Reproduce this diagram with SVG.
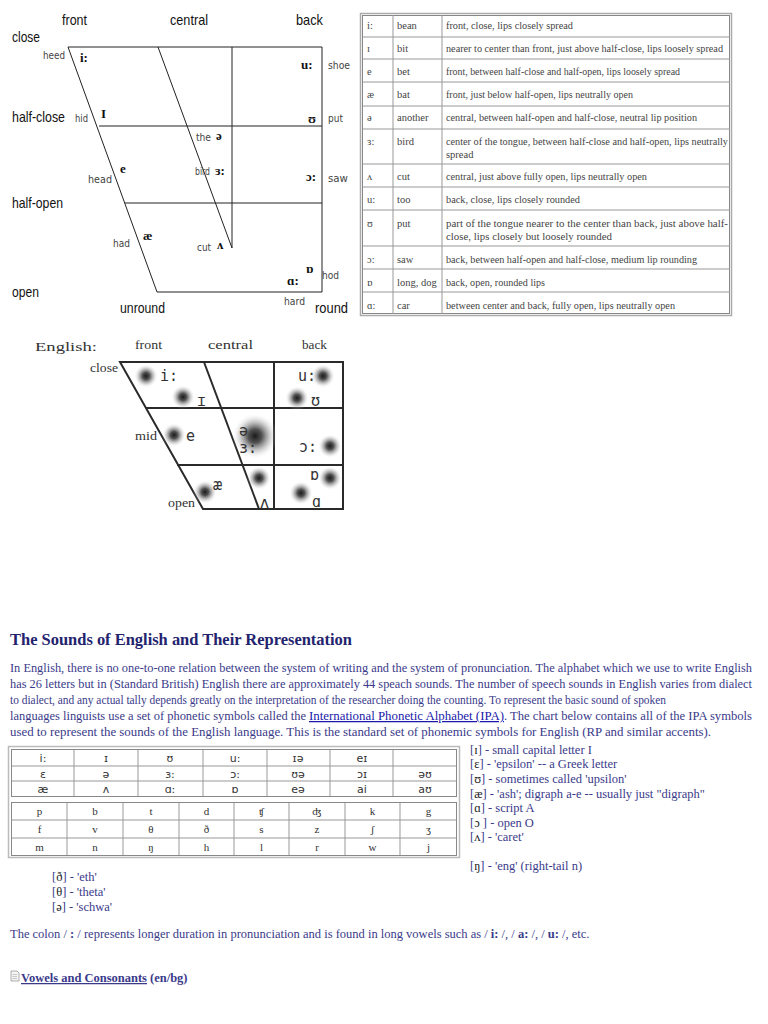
<svg xmlns="http://www.w3.org/2000/svg" width="768" height="1024" viewBox="0 0 768 1024">
<style>
.lbl{font-family:"Liberation Sans",Arial,sans-serif;font-size:15px;fill:#111;}
.hw{font-family:"DejaVu Sans","Liberation Sans",sans-serif;font-size:11px;fill:#444;}
.sym{font-family:"Liberation Serif","DejaVu Serif",serif;font-size:13px;font-weight:bold;fill:#111;}
.ln{stroke:#222;stroke-width:1;fill:none;}
.tb{font-family:"Liberation Serif","Times New Roman",serif;font-size:10.5px;fill:#444;}
.tl{stroke:#999;stroke-width:1;fill:none;}
.en{font-family:"Liberation Serif","Times New Roman",serif;font-size:13px;fill:#333;}
.ch{stroke:#2a2a2a;stroke-width:2;fill:none;}
.ip{font-family:"DejaVu Sans Mono","Liberation Mono",monospace;font-size:15px;fill:#333;}
.body{font-family:"Liberation Serif","Times New Roman",serif;font-size:12.5px;fill:#3a3a8a;}
.ttl{font-family:"Liberation Serif","Times New Roman",serif;font-size:16.5px;font-weight:bold;fill:#23236e;}
.lnk{fill:#1a1aaa;text-decoration:underline;}
.vc{font-family:"DejaVu Sans","Liberation Sans",sans-serif;font-size:11px;fill:#333;text-anchor:middle;}
.cc{font-family:"Liberation Serif","DejaVu Serif",serif;font-size:11px;fill:#333;text-anchor:middle;}
.nt{font-family:"Liberation Serif","Times New Roman",serif;font-size:12.5px;fill:#3a3a8a;}
</style>
<defs>
<radialGradient id="dot">
<stop offset="0" stop-color="#1a1a1a" stop-opacity="1"/>
<stop offset="0.3" stop-color="#333" stop-opacity="0.85"/>
<stop offset="0.65" stop-color="#777" stop-opacity="0.35"/>
<stop offset="1" stop-color="#fff" stop-opacity="0"/>
</radialGradient>
</defs>
<rect width="768" height="1024" fill="#fff"/>

<!-- Top-left vowel chart -->
<g id="chart1">
<path class="ln" d="M68,47 H322 V292 H157 Z"/>
<line class="ln" x1="158" y1="47" x2="232" y2="248"/>
<line class="ln" x1="232" y1="47" x2="232" y2="248"/>
<line class="ln" x1="99" y1="126" x2="322" y2="126"/>
<line class="ln" x1="125" y1="203" x2="322" y2="203"/>
<text class="lbl" x="62" y="25" textLength="25" lengthAdjust="spacingAndGlyphs">front</text>
<text class="lbl" x="170" y="25" textLength="38" lengthAdjust="spacingAndGlyphs">central</text>
<text class="lbl" x="296" y="25" textLength="27" lengthAdjust="spacingAndGlyphs">back</text>
<text class="lbl" x="12" y="42" textLength="28" lengthAdjust="spacingAndGlyphs">close</text>
<text class="lbl" x="12" y="122" textLength="53" lengthAdjust="spacingAndGlyphs">half-close</text>
<text class="lbl" x="12" y="208" textLength="51" lengthAdjust="spacingAndGlyphs">half-open</text>
<text class="lbl" x="12" y="297" textLength="27" lengthAdjust="spacingAndGlyphs">open</text>
<text class="lbl" x="120" y="313" textLength="45" lengthAdjust="spacingAndGlyphs">unround</text>
<text class="lbl" x="315" y="313" textLength="33" lengthAdjust="spacingAndGlyphs">round</text>
<text class="hw" x="43" y="59" textLength="22" lengthAdjust="spacingAndGlyphs">heed</text>
<text class="hw" x="328" y="69" textLength="22" lengthAdjust="spacingAndGlyphs">shoe</text>
<text class="hw" x="75" y="122" textLength="13" lengthAdjust="spacingAndGlyphs">hid</text>
<text class="hw" x="328" y="122" textLength="15" lengthAdjust="spacingAndGlyphs">put</text>
<text class="hw" x="196" y="141" textLength="15" lengthAdjust="spacingAndGlyphs">the</text>
<text class="hw" x="88" y="183" textLength="24" lengthAdjust="spacingAndGlyphs">head</text>
<text class="hw" x="195" y="175" textLength="15" lengthAdjust="spacingAndGlyphs">bird</text>
<text class="hw" x="328" y="182" textLength="20" lengthAdjust="spacingAndGlyphs">saw</text>
<text class="hw" x="113" y="247" textLength="17" lengthAdjust="spacingAndGlyphs">had</text>
<text class="hw" x="197" y="251" textLength="14" lengthAdjust="spacingAndGlyphs">cut</text>
<text class="hw" x="322" y="279" textLength="17" lengthAdjust="spacingAndGlyphs">hod</text>
<text class="hw" x="284" y="305" textLength="21" lengthAdjust="spacingAndGlyphs">hard</text>
<text class="sym" x="80" y="62">i:</text>
<text class="sym" x="301" y="69">u:</text>
<text class="sym" x="101" y="118" font-size="11">I</text>
<text class="sym" x="308" y="123">ʊ</text>
<text class="sym" x="216" y="140">ə</text>
<text class="sym" x="120" y="173">e</text>
<text class="sym" x="215" y="175">ɜ:</text>
<text class="sym" x="306" y="181">ɔ:</text>
<text class="sym" x="143" y="240">æ</text>
<text class="sym" x="217" y="249" font-size="10">ʌ</text>
<text class="sym" x="306" y="273" font-size="11">ɒ</text>
<text class="sym" x="287" y="285">ɑ:</text>
</g>

<!-- Top-right description table -->
<g id="table1">
<rect x="360.5" y="13.5" width="371" height="302" fill="none" stroke="#aaa" stroke-width="1.5"/>
<rect x="362.5" y="15.5" width="367" height="298" fill="none" stroke="#888" stroke-width="1"/>
<line class="tl" x1="393" y1="15" x2="393" y2="314"/>
<line class="tl" x1="442" y1="15" x2="442" y2="314"/>
<path class="tl" d="M363,37 H730 M363,59 H730 M363,82 H730 M363,106 H730 M363,129 H730 M363,164 H730 M363,187 H730 M363,210 H730 M363,246 H730 M363,269 H730 M363,292 H730"/>
<text class="tb" x="367" y="29">i:</text><text class="tb" x="397" y="29">bean</text>
<text class="tb" x="446" y="29" textLength="127" lengthAdjust="spacingAndGlyphs">front, close, lips closely spread</text>
<text class="tb" x="367" y="52">ɪ</text><text class="tb" x="397" y="52">bit</text>
<text class="tb" x="446" y="52" textLength="277" lengthAdjust="spacingAndGlyphs">nearer to center than front, just above half-close, lips loosely spread</text>
<text class="tb" x="367" y="75">e</text><text class="tb" x="397" y="75">bet</text>
<text class="tb" x="446" y="75" textLength="234" lengthAdjust="spacingAndGlyphs">front, between half-close and half-open, lips loosely spread</text>
<text class="tb" x="367" y="98">æ</text><text class="tb" x="397" y="98">bat</text>
<text class="tb" x="446" y="98" textLength="187" lengthAdjust="spacingAndGlyphs">front, just below half-open, lips neutrally open</text>
<text class="tb" x="367" y="121">ə</text><text class="tb" x="397" y="121">another</text>
<text class="tb" x="446" y="121" textLength="251" lengthAdjust="spacingAndGlyphs">central, between half-open and half-close, neutral lip position</text>
<text class="tb" x="367" y="145">ɜ:</text><text class="tb" x="397" y="145">bird</text>
<text class="tb" x="446" y="145" textLength="282" lengthAdjust="spacingAndGlyphs">center of the tongue, between half-close and half-open, lips neutrally</text>
<text class="tb" x="446" y="158">spread</text>
<text class="tb" x="367" y="180">ʌ</text><text class="tb" x="397" y="180">cut</text>
<text class="tb" x="446" y="180" textLength="201" lengthAdjust="spacingAndGlyphs">central, just above fully open, lips neutrally open</text>
<text class="tb" x="367" y="203">u:</text><text class="tb" x="397" y="203">too</text>
<text class="tb" x="446" y="203" textLength="134" lengthAdjust="spacingAndGlyphs">back, close, lips closely rounded</text>
<text class="tb" x="367" y="227">ʊ</text><text class="tb" x="397" y="227">put</text>
<text class="tb" x="446" y="227" textLength="282" lengthAdjust="spacingAndGlyphs">part of the tongue nearer to the center than back, just above half-</text>
<text class="tb" x="446" y="240" textLength="166" lengthAdjust="spacingAndGlyphs">close, lips closely but loosely rounded</text>
<text class="tb" x="367" y="263">ɔ:</text><text class="tb" x="397" y="263">saw</text>
<text class="tb" x="446" y="263" textLength="251" lengthAdjust="spacingAndGlyphs">back, between half-open and half-close, medium lip rounding</text>
<text class="tb" x="367" y="286">ɒ</text><text class="tb" x="397" y="286">long, dog</text>
<text class="tb" x="446" y="286" textLength="99" lengthAdjust="spacingAndGlyphs">back, open, rounded lips</text>
<text class="tb" x="367" y="309">ɑ:</text><text class="tb" x="397" y="309">car</text>
<text class="tb" x="446" y="309" textLength="229" lengthAdjust="spacingAndGlyphs">between center and back, fully open, lips neutrally open</text>
</g>

<!-- English vowel chart -->
<g id="chart2">
<text class="en" x="35" y="351" font-size="18" fill="#555" textLength="62" lengthAdjust="spacingAndGlyphs">English:</text>
<text class="en" x="135" y="349" textLength="27" lengthAdjust="spacingAndGlyphs">front</text>
<text class="en" x="208" y="349" textLength="45" lengthAdjust="spacingAndGlyphs">central</text>
<text class="en" x="302" y="349" textLength="25" lengthAdjust="spacingAndGlyphs">back</text>
<path class="ch" d="M120,362 H343 V509 H203 Z"/>
<line class="ch" x1="204" y1="362" x2="259" y2="509"/>
<line class="ch" x1="274" y1="362" x2="274" y2="509"/>
<line class="ch" x1="146" y1="408" x2="343" y2="408"/>
<line class="ch" x1="177" y1="465" x2="343" y2="465"/>
<text class="en" x="90" y="372" textLength="28" lengthAdjust="spacingAndGlyphs">close</text>
<text class="en" x="135" y="440" textLength="22" lengthAdjust="spacingAndGlyphs">mid</text>
<text class="en" x="168" y="507" textLength="27" lengthAdjust="spacingAndGlyphs">open</text>
<circle cx="146" cy="376" r="12" fill="url(#dot)"/>
<circle cx="183" cy="397" r="12" fill="url(#dot)"/>
<circle cx="323" cy="376" r="12" fill="url(#dot)"/>
<circle cx="297" cy="398" r="12" fill="url(#dot)"/>
<circle cx="255" cy="436" r="23" fill="url(#dot)"/>
<circle cx="174" cy="435" r="12" fill="url(#dot)"/>
<circle cx="330" cy="446" r="12" fill="url(#dot)"/>
<circle cx="259" cy="478" r="12" fill="url(#dot)"/>
<circle cx="205" cy="492" r="12" fill="url(#dot)"/>
<circle cx="330" cy="478" r="12" fill="url(#dot)"/>
<circle cx="301" cy="493" r="12" fill="url(#dot)"/>
<text class="ip" x="160" y="381">i:</text>
<text class="ip" x="197" y="406">ɪ</text>
<text class="ip" x="298" y="381">u:</text>
<text class="ip" x="311" y="406">ʊ</text>
<text class="ip" x="186" y="441">e</text>
<text class="ip" x="239" y="436">ə</text>
<text class="ip" x="239" y="453">ɜ:</text>
<text class="ip" x="299" y="452">ɔ:</text>
<text class="ip" x="213" y="490" font-family="Liberation Serif,serif">æ</text>
<text class="ip" x="260" y="508">ʌ</text>
<text class="ip" x="310" y="480">ɒ</text>
<text class="ip" x="312" y="507">ɑ</text>
</g>

<!-- Text section -->
<g id="text">
<text class="ttl" x="10" y="645" textLength="342" lengthAdjust="spacingAndGlyphs">The Sounds of English and Their Representation</text>
<text class="body" x="10" y="672" textLength="742" lengthAdjust="spacingAndGlyphs">In English, there is no one-to-one relation between the system of writing and the system of pronunciation. The alphabet which we use to write English</text>
<text class="body" x="10" y="688" textLength="742" lengthAdjust="spacingAndGlyphs">has 26 letters but in (Standard British) English there are approximately 44 speach sounds. The number of speech sounds in English varies from dialect</text>
<text class="body" x="10" y="704" textLength="656" lengthAdjust="spacingAndGlyphs">to dialect, and any actual tally depends greatly on the interpretation of the researcher doing the counting. To represent the basic sound of spoken</text>
<text class="body" x="10" y="720" textLength="296" lengthAdjust="spacingAndGlyphs">languages linguists use a set of phonetic symbols called the</text>
<text class="body lnk" x="309" y="720" textLength="195" lengthAdjust="spacingAndGlyphs">International Phonetic Alphabet (IPA)</text>
<text class="body" x="504" y="720" textLength="248" lengthAdjust="spacingAndGlyphs">. The chart below contains all of the IPA symbols</text>
<text class="body" x="10" y="736" textLength="701" lengthAdjust="spacingAndGlyphs">used to represent the sounds of the English language. This is the standard set of phonemic symbols for English (RP and similar accents).</text>
</g>

<!-- IPA symbol table -->
<g id="ipatable">
<rect x="8.5" y="746.5" width="451" height="111" fill="none" stroke="#bbb" stroke-width="1.5"/>
<rect x="11.5" y="749.5" width="445" height="47" fill="none" stroke="#888"/>
<path class="tl" d="M12,766 H456 M12,781 H456 M74,750 V796 M138,750 V796 M203,750 V796 M267,750 V796 M330,750 V796 M393,750 V796"/>
<rect x="11.5" y="802.5" width="445" height="53" fill="none" stroke="#888"/>
<path class="tl" d="M12,820 H456 M12,838 H456 M67,803 V855 M123,803 V855 M179,803 V855 M234,803 V855 M289,803 V855 M345,803 V855 M400,803 V855"/>
<text class="vc" x="43" y="762">i:</text><text class="vc" x="106" y="762">ɪ</text><text class="vc" x="170" y="762">ʊ</text><text class="vc" x="235" y="762">u:</text><text class="vc" x="298" y="762">ɪə</text><text class="vc" x="362" y="762">eɪ</text>
<text class="vc" x="43" y="778">ɛ</text><text class="vc" x="106" y="778">ə</text><text class="vc" x="170" y="778">ɜ:</text><text class="vc" x="235" y="778">ɔ:</text><text class="vc" x="298" y="778">ʊə</text><text class="vc" x="362" y="778">ɔɪ</text><text class="vc" x="425" y="778">əʊ</text>
<text class="vc" x="43" y="793">æ</text><text class="vc" x="106" y="793">ʌ</text><text class="vc" x="170" y="793">ɑ:</text><text class="vc" x="235" y="793">ɒ</text><text class="vc" x="298" y="793">eə</text><text class="vc" x="362" y="793">ai</text><text class="vc" x="425" y="793">aʊ</text>
<text class="cc" x="39.5" y="815">p</text><text class="cc" x="95" y="815">b</text><text class="cc" x="151" y="815">t</text><text class="cc" x="206.5" y="815">d</text><text class="cc" x="261.5" y="815" font-size="13">ʧ</text><text class="cc" x="317" y="815" font-size="13">ʤ</text><text class="cc" x="372.5" y="815">k</text><text class="cc" x="428.5" y="815">g</text>
<text class="cc" x="39.5" y="833">f</text><text class="cc" x="95" y="833">v</text><text class="cc" x="151" y="833" font-size="13" font-family="DejaVu Sans,sans-serif">θ</text><text class="cc" x="206.5" y="833" font-size="13" font-family="DejaVu Sans,sans-serif">ð</text><text class="cc" x="261.5" y="833">s</text><text class="cc" x="317" y="833">z</text><text class="cc" x="372.5" y="833" font-size="13">ʃ</text><text class="cc" x="428.5" y="833" font-size="13" font-family="DejaVu Sans,sans-serif">ʒ</text>
<text class="cc" x="39.5" y="851">m</text><text class="cc" x="95" y="851">n</text><text class="cc" x="151" y="851" font-size="13" font-family="DejaVu Sans,sans-serif">ŋ</text><text class="cc" x="206.5" y="851">h</text><text class="cc" x="261.5" y="851">l</text><text class="cc" x="317" y="851">r</text><text class="cc" x="372.5" y="851">w</text><text class="cc" x="428.5" y="851">j</text>
</g>

<!-- Notes -->
<g id="notes">
<text class="nt" x="470" y="754">[<tspan fill="#222">ɪ</tspan>] - small capital letter I</text>
<text class="nt" x="470" y="768">[<tspan fill="#222">ɛ</tspan>] - 'epsilon' -- a Greek letter</text>
<text class="nt" x="470" y="783">[<tspan fill="#222">ʊ</tspan>] - sometimes called 'upsilon'</text>
<text class="nt" x="470" y="798">[<tspan fill="#222">æ</tspan>] - 'ash'; digraph a-e -- usually just "digraph"</text>
<text class="nt" x="470" y="812">[<tspan fill="#222">ɑ</tspan>] - script A</text>
<text class="nt" x="470" y="827">[<tspan fill="#222">ɔ </tspan>] - open O</text>
<text class="nt" x="470" y="841">[<tspan fill="#222">ʌ</tspan>] - 'caret'</text>
<text class="nt" x="470" y="870">[<tspan fill="#222">ŋ</tspan>] - 'eng' (right-tail n)</text>
<text class="nt" x="52" y="881">[<tspan fill="#222">ð</tspan>] - 'eth'</text>
<text class="nt" x="52" y="896">[<tspan fill="#222">θ</tspan>] - 'theta'</text>
<text class="nt" x="52" y="911">[<tspan fill="#222">ə</tspan>] - 'schwa'</text>
<text class="nt" x="10" y="938" font-size="12">The colon / <tspan font-weight="bold">:</tspan> / represents longer duration in pronunciation and is found in long vowels such as / <tspan font-weight="bold">i:</tspan> /, / <tspan font-weight="bold">a:</tspan> /, / <tspan font-weight="bold">u:</tspan> /, etc.</text>
</g>

<!-- Bottom link -->
<g id="footer">
<path d="M11,971 H17 L19,973 V981 H11 Z" fill="#f4f4f4" stroke="#999" stroke-width="0.8"/>
<path d="M12.5,974.5 H17 M12.5,976.5 H17 M12.5,978.5 H17" stroke="#aaa" stroke-width="0.6"/>
<text class="nt" x="21" y="982" font-weight="bold" fill="#1a1aaa" text-decoration="underline" textLength="126" lengthAdjust="spacingAndGlyphs">Vowels and Consonants</text>
<text class="nt" x="150" y="982" font-weight="bold" fill="#333">(en/bg)</text>
</g>
</svg>
